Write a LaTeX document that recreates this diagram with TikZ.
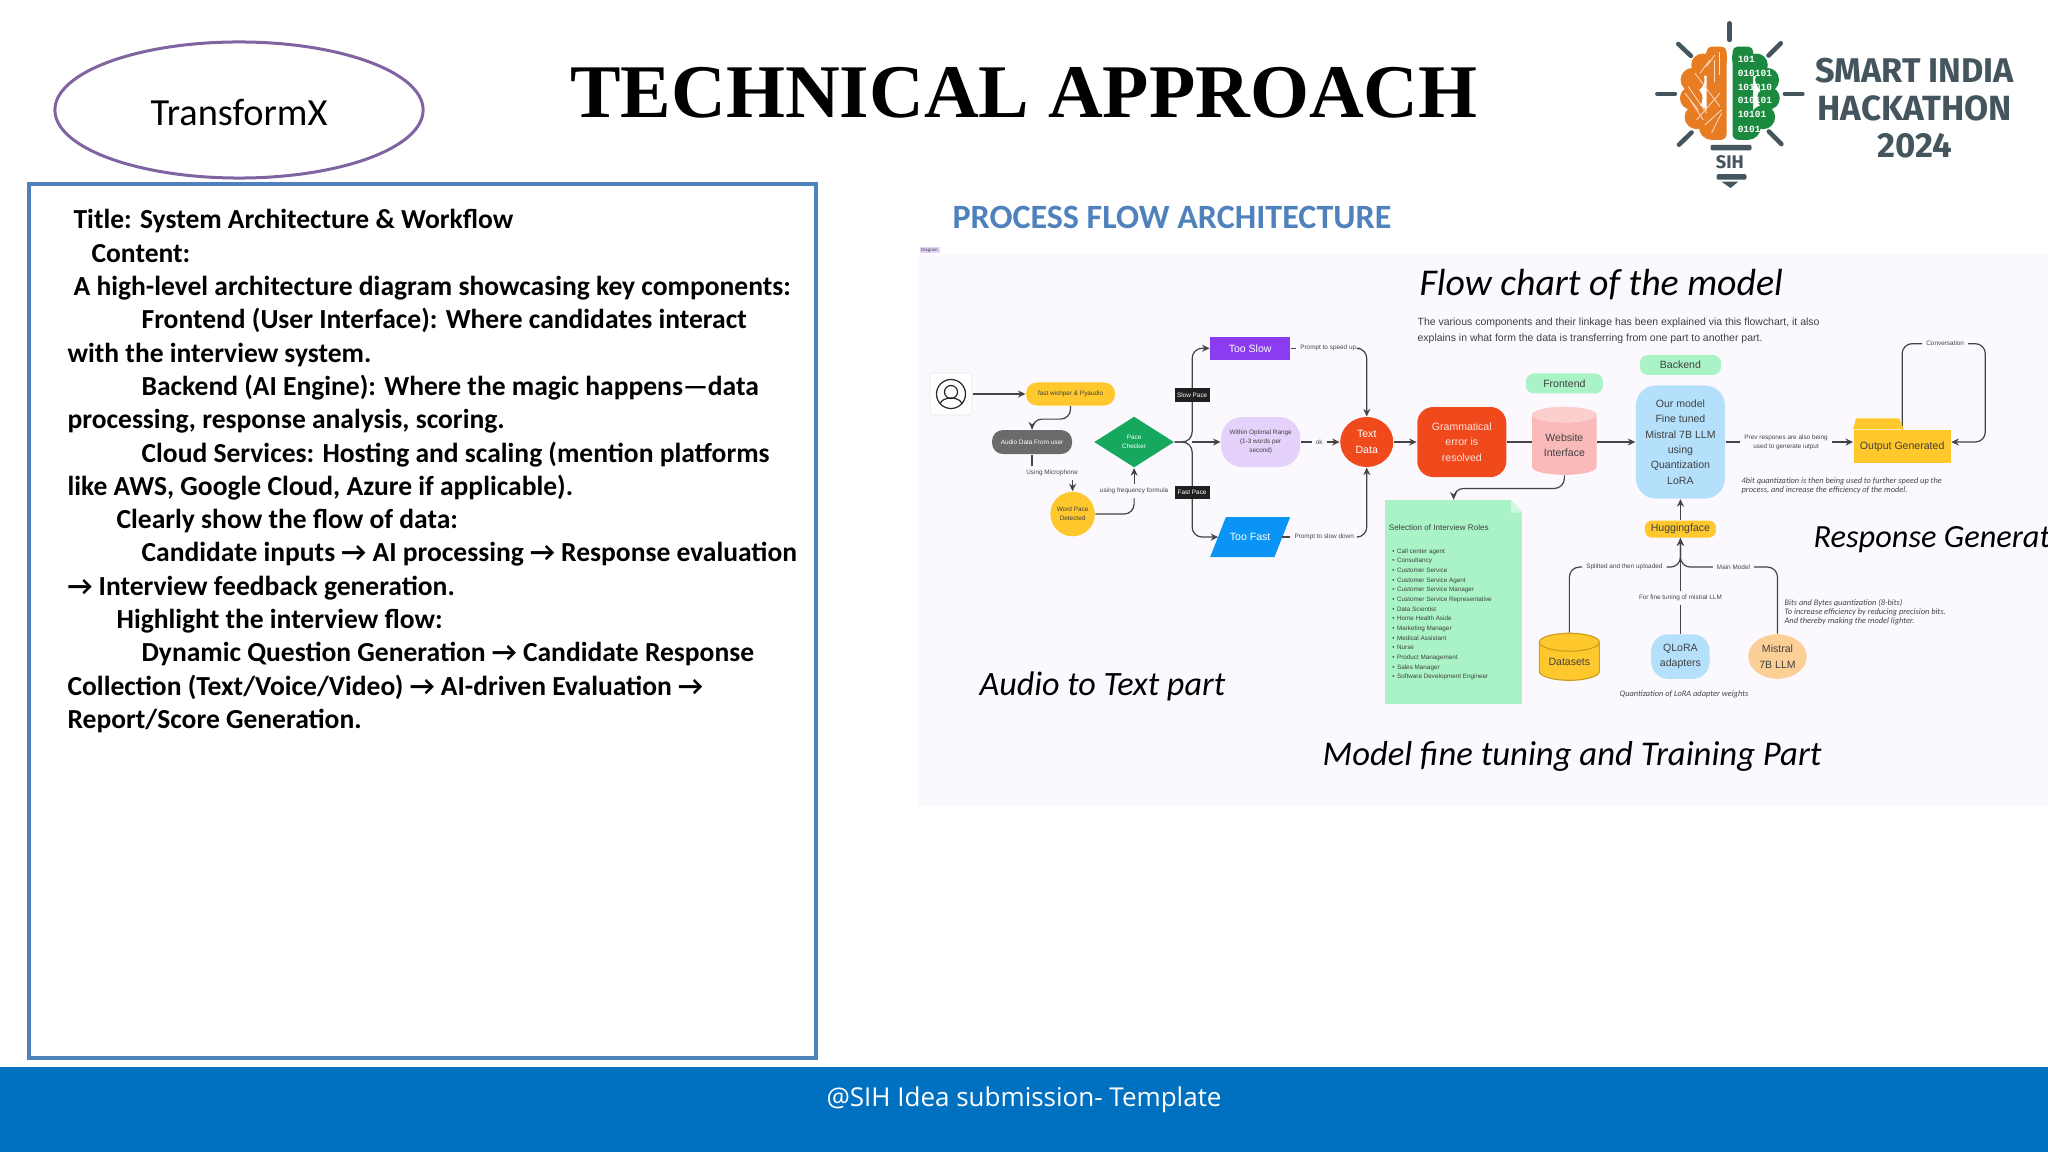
\documentclass[tikz,border=0pt]{standalone}
\usepackage{fontspec}
\setmainfont{Carlito}
\newfontfamily\diagfont{Liberation Sans}
\newfontfamily\titlefont{Liberation Serif}
\newfontfamily\logofont{Fira Sans}
\newfontfamily\footfont{Open Sans}
\newfontfamily\bitsfont{Liberation Mono}
\usetikzlibrary{positioning, arrows.meta, shapes.geometric}
\definecolor{sheetbg}{HTML}{FBF9FE}
\definecolor{slideblue}{HTML}{4F81BD}
\definecolor{footblue}{HTML}{0070C0}
\definecolor{ringviolet}{HTML}{8064A2}
\definecolor{sunny}{HTML}{FFC82C}
\definecolor{greyish}{HTML}{6B6B6B}
\definecolor{leaf}{HTML}{16A85C}
\definecolor{violet}{HTML}{8B3CF0}
\definecolor{lilac}{HTML}{E4D2FA}
\definecolor{azure}{HTML}{0A94F5}
\definecolor{tomato}{HTML}{F0491C}
\definecolor{blush}{HTML}{FBBABA}
\definecolor{mint}{HTML}{A9F3C6}
\definecolor{sky}{HTML}{B5E0FC}
\definecolor{peach}{HTML}{FBCF96}
\definecolor{linegrey}{HTML}{444444}
\definecolor{logogrey}{HTML}{44555E}
\definecolor{logoorange}{HTML}{E87C22}
\definecolor{logogreen}{HTML}{1B8A3E}
\begin{document}
\begin{tikzpicture}[x=0.01cm, y=-0.01cm, on grid, >={Stealth[length=0.75mm, width=0.7mm]}, line width=0.12mm,
	big/.style={inner sep=0, align=center, text=black!75, font=\diagfont\fontsize{3}{4.35}\selectfont},
	small/.style={inner sep=0, align=center, text=black!75, font=\diagfont\fontsize{1.82}{2.6}\selectfont},
	linktext/.style={small, inner sep=0.35mm, text=linegrey},
	tagbox/.style={small, fill=black!88, text=white, minimum width=3.5mm, minimum height=1.35mm},
	joint/.style={inner sep=0, outer sep=0, minimum size=0pt},
	hand/.style={inner sep=0, anchor=west, font=\itshape\fontsize{9.7}{11}\selectfont},
	tinyhand/.style={inner sep=0, anchor=west, align=left, text=linegrey, font=\itshape\fontsize{2.38}{2.65}\selectfont},
	link/.style={draw=linegrey, rounded corners=1mm}]
	\useasboundingbox (0,0) rectangle (2048,1152);
	\fill[white] (0,0) rectangle (2048,1152);
	\fill[sheetbg] (918,254) rectangle (2048,806);
	\fill[footblue] (0,1067) rectangle (2048,1152);

	\node[draw=ringviolet, line width=0.3mm, ellipse, minimum width=36.8mm, minimum height=13.6mm, inner sep=0] (brand) at (239,110) {};
	\node[font=\fontsize{10.9}{12}\selectfont, inner sep=0] (brandname) at (239,113) {TransformX};
	\node[font=\titlefont\bfseries\fontsize{21.55}{26}\selectfont, inner sep=0] (heading) at (1024,93) {TECHNICAL APPROACH};
	\node[draw=slideblue, line width=0.4mm, minimum width=78.7mm, minimum height=87.4mm, inner sep=0] (panel) at (422.5,621) {};
	\node[anchor=north west, inner sep=0, align=left, font=\bfseries\fontsize{7.83}{9.47}\selectfont] (paneltext) at (67,209) {%
		\hspace*{0.6mm}Title: System Architecture \& Workflow\\
		\hspace*{2.4mm}Content:\\
		\hspace*{0.6mm}A high-level architecture diagram showcasing key components:\\
		\hspace*{7.4mm}Frontend (User Interface): Where candidates interact\\
		with the interview system.\\
		\hspace*{7.4mm}Backend (AI Engine): Where the magic happens—data\\
		processing, response analysis, scoring.\\
		\hspace*{7.4mm}Cloud Services: Hosting and scaling (mention platforms\\
		like AWS, Google Cloud, Azure if applicable).\\
		\hspace*{4.9mm}Clearly show the flow of data:\\
		\hspace*{7.4mm}Candidate inputs → AI processing → Response evaluation\\
		→ Interview feedback generation.\\
		\hspace*{4.9mm}Highlight the interview flow:\\
		\hspace*{7.4mm}Dynamic Question Generation → Candidate Response\\
		Collection (Text/Voice/Video) → AI-driven Evaluation →\\
		Report/Score Generation.};
	\node[anchor=west, inner sep=0, text=slideblue, font=\bfseries\fontsize{9.68}{11}\selectfont] (flowhead) at (952,217) {PROCESS FLOW ARCHITECTURE};
	\node[text=white, inner sep=0, font=\footfont\fontsize{7.39}{9}\selectfont] (footer) at (1024,1100) {@SIH Idea submission- Template};

	\node[small, fill=lilac, minimum width=2mm, minimum height=0.6mm, font=\diagfont\fontsize{1.25}{1.5}\selectfont] (tag) at (929.5,250) {Diagram};
	\node[hand, font=\itshape\fontsize{10.75}{12}\selectfont] (charthead) at (1419,285) {Flow chart of the model};
	\node[small, anchor=north west, align=left, font=\diagfont\fontsize{2.98}{4.55}\selectfont] (about) at (1417,317) {The various components and their linkage has been explained via this flowchart, it also\\explains in what form the data is transferring from one part to another part.};

	\node[fill=white, draw=black!6, rounded corners=0.3mm, minimum size=4.2mm, inner sep=0] (user) at (951,394) {};
	\draw[black!85] (user.center) circle [radius=1.45mm];
	\draw[black!85] (951,392) circle [radius=0.65mm];
	\draw[black!85] (940,404) .. controls (942,396) and (960,396) .. (962,404);
	\node[small, fill=sunny, rounded corners=1.1mm, minimum width=8.9mm, minimum height=2.3mm] (wishper) [right=11.95mm of user] {fast wishper \& Pyaudio};
	\node[small, fill=greyish, text=white, rounded corners=1.1mm, minimum width=8mm, minimum height=2.4mm] (audio) [below left=4.8mm and 3.85mm of wishper] {Audio Data From user};
	\node[small, fill=sunny, circle, minimum size=4.45mm] (pace) [below right=7.2mm and 4.05mm of audio] {Word Pace\\Detected};
	\node[linktext] (mic) [below right=3.1mm and 2mm of audio] {Using Microphone};
	\node[small, diamond, fill=leaf, text=white, aspect=1.57, minimum width=8mm, minimum height=5.1mm] (checker) [right=10.2mm of audio] {Pace\\Checker};
	\node[linktext] (formula) [below=4.9mm of checker] {using frequency formula};
	\node[joint] (fork) [right=5.8mm of checker] {};
	\node[big, fill=violet, text=white, minimum width=8mm, minimum height=2.3mm] (slow) [above right=9.37mm and 5.8mm of fork] {Too Slow};
	\node[joint, minimum width=8mm, minimum height=4mm] (fast) [below right=9.5mm and 5.8mm of fork] {};
	\fill[azure] (fast.south west) -- ++(15.7,-40) -- ++(64.3,0) -- ++(-15.7,40) -- cycle;
	\node[big, text=white] (fastname) at (fast) {Too Fast};
	\node[small, fill=lilac, rounded corners=2.1mm, minimum width=7.9mm, minimum height=5mm] (optimal) [right=6.85mm of fork] {Within Optimal Range\\(1-3 words per\\second)};
	\node[linktext] (speedup) [right=7.8mm of slow] {Prompt to speed up};
	\node[linktext] (slowdown) [right=7.4mm of fast] {Prompt to slow down};
	\node[linktext] (okay) [right=5.85mm of optimal] {ok};
	\node[big, fill=tomato, text=white, ellipse, minimum width=5.3mm, minimum height=5mm] (textdata) [right=10.6mm of optimal] {Text\\Data};
	\node[big, fill=tomato, text=white, rounded corners=1.6mm, minimum width=8.9mm, minimum height=7mm, text=white!85!tomato] (grammar) [right=9.5mm of textdata] {Grammatical\\error is\\resolved};
	\node[big, cylinder, shape border rotate=90, shape aspect=0.38, cylinder uses custom fill, cylinder body fill=blush, cylinder end fill=blush!70, minimum width=6.45mm, minimum height=6.8mm] (website) [below right=0.3mm and 10.25mm of grammar] {Website\\Interface};
	\node[big, fill=mint, rounded corners=0.8mm, minimum width=7.7mm, minimum height=2mm] (frontend) [above=6.15mm of website] {Frontend};
	\node[big, fill=sky, rounded corners=2mm, minimum width=8.9mm, minimum height=11.3mm] (model) [above right=0.3mm and 11.6mm of website] {Our model\\Fine tuned\\Mistral 7B LLM\\using\\Quantization\\LoRA};
	\node[big, fill=mint, rounded corners=0.8mm, minimum width=8.1mm, minimum height=2mm] (backend) [above=7.7mm of model] {Backend};
	\node[big, fill=sunny, rounded corners=0.7mm, minimum width=7.1mm, minimum height=1.7mm] (hugging) [below=8.7mm of model] {Huggingface};
	\node[joint] (hub) [below=3.8mm of hugging] {};
	\node[linktext] (finetune) [below=3.1mm of hub] {For fine tuning of mistral LLM};
	\node[linktext] (split) [left=5.6mm of hub] {Splitted and then uploaded};
	\node[linktext] (mainmodel) [right=5.3mm of hub] {Main Model};
	\node[big, fill=sky, rounded corners=1.7mm, minimum width=5.85mm, minimum height=4.45mm] (qlora) [below=8.94mm of hub] {QLoRA\\adapters};
	\node[big, cylinder, shape border rotate=90, shape aspect=0.43, draw=sunny!80!black, cylinder uses custom fill, cylinder body fill=sunny, cylinder end fill=sunny, minimum width=6mm, minimum height=4.7mm] (datasets) [below left=0.5mm and 11.1mm of qlora] {Datasets};
	\node[big, fill=peach, ellipse, minimum width=5.85mm, minimum height=4.45mm] (mistral) [right=9.7mm of qlora] {Mistral\\7B LLM};
	\node[linktext] (prev) [right=10.56mm of model] {Prev respones are also being\\used to generate iutput};
	\node[big, fill=sunny, minimum width=9.7mm, minimum height=3.3mm] (output) [below right=0.45mm and 11.6mm of prev] {Output Generated};
	\node[linktext] (chat) [above right=10.28mm and 4.3mm of output] {Conversation};
	\coordinate (outputin) at (output.east |- prev.east);
	\coordinate (turn) at ([xshift=3.4mm]outputin);
	\node[fill=mint, minimum width=13.74mm, minimum height=20.37mm, inner sep=0] (roles) [below left=16mm and 0.82mm of grammar] {};
	\fill[sheetbg] (roles.north east) -- ++(-12,0) -- ++(12,13) -- cycle;
	\fill[mint!55] (roles.north east) ++(-12,0) -- ++(12,13) -- ++(-12,0) -- cycle;
	\node[small, anchor=north west, font=\diagfont\fontsize{2.3}{2.8}\selectfont] (rolehead) at ([shift={(0.4mm,-2.45mm)}]roles.north west) {Selection of Interview Roles};
	\node[small, anchor=north west, align=left, font=\diagfont\fontsize{1.8}{2.745}\selectfont] (rolelist) at ([shift={(0.75mm,-4.85mm)}]roles.north west) {%
		\textbullet\hspace{0.25mm}Call center agent\\
		\textbullet\hspace{0.25mm}Consultancy\\
		\textbullet\hspace{0.25mm}Customer Service\\
		\textbullet\hspace{0.25mm}Customer Service Agent\\
		\textbullet\hspace{0.25mm}Customer Service Manager\\
		\textbullet\hspace{0.25mm}Customer Service Representative\\
		\textbullet\hspace{0.25mm}Data Scientist\\
		\textbullet\hspace{0.25mm}Home Health Aside\\
		\textbullet\hspace{0.25mm}Marketing Manager\\
		\textbullet\hspace{0.25mm}Medical Assistant\\
		\textbullet\hspace{0.25mm}Nurse\\
		\textbullet\hspace{0.25mm}Product Management\\
		\textbullet\hspace{0.25mm}Sales Manager\\
		\textbullet\hspace{0.25mm}Software Development Engineer};

	\draw[->, draw=linegrey] (user.east) -- (wishper.west);
	\draw[->, link] (wishper.south) -- ++(0,13) -| (audio.north);
	\draw[draw=linegrey] (audio.south) -- (mic.north -| audio.south);
	\draw[->, draw=linegrey] (mic.south -| pace.north) -- (pace.north);
	\draw[link] (pace.east) -| (formula.south);
	\draw[->, draw=linegrey] (formula.north) -- (checker.south);
	\draw[->, link] (checker.east) -- (fork.center) |- (slow.west);
	\draw[->, link] (checker.east) -- (fork.center) |- ([xshift=0.8mm]fast.west);
	\draw[->, draw=linegrey] (fork.center) -- (optimal.west);
	\node[tagbox] (slowpace) [above=4.7mm of fork] {Slow Pace};
	\node[tagbox] (fastpace) [below=5.05mm of fork] {Fast Pace};
	\draw[draw=linegrey] (slow.east) -- (speedup.west);
	\draw[->, link] (speedup.east) -| (textdata.north);
	\draw[draw=linegrey] (optimal.east) -- (okay.west);
	\draw[->, draw=linegrey] (okay.east) -- (textdata.west);
	\draw[draw=linegrey] ([xshift=-0.8mm]fast.east) -- (slowdown.west);
	\draw[->, link] (slowdown.east) -| (textdata.south);
	\draw[->, draw=linegrey] (textdata.east) -- (grammar.west);
	\draw[draw=linegrey] (grammar.east) -- (grammar.east -| website.west);
	\draw[->, draw=linegrey] (model.west -| website.east) -- (model.west);
	\draw[->, link] (website.south) -- ++(0,13) -| (roles.north);
	\draw[draw=linegrey] (model.east) -- (prev.west);
	\draw[->, draw=linegrey] (prev.east) -- (prev.east -| output.west);
	\draw[link] (output.north) |- (chat.west);
	\draw[->, link] (chat.east) -| (turn) -- (outputin);
	\fill[sunny] (output.north west) -- ++(3,-11) -- ++(43,0) -- ++(5,11) -- cycle;
	\draw[->, draw=linegrey] (hugging.north) -- (model.south);
	\draw[->, link] (split.east) -- (hub.center) -- (hugging.south);
	\draw[->, link] (mainmodel.west) -- (hub.center) -- (hugging.south);
	\draw[draw=linegrey] (hugging.south) -- (finetune.north);
	\draw[draw=linegrey] (finetune.south) -- (qlora.north);
	\draw[link] (datasets.north) |- (split.west);
	\draw[link] (mistral.north) |- (mainmodel.east);

	\node[tinyhand] (quantnote) at (1741,485.5) {4bit quantization is then being used to further speed up the\\process, and increase the efficiency of the model.};
	\node[tinyhand] (bitsnote) at (1784,612) {Bits and Bytes quantization (8-bits)\\To increase efficiency by reducing precision bits.\\And thereby making the model lighter.};
	\node[tinyhand, anchor=center] (loranote) at (1684,694) {Quantization of LoRA adapter weights};
	\node[hand] (audiopart) at (979,686.7) {Audio to Text part};
	\node[hand, font=\itshape\fontsize{9.86}{11}\selectfont] (tuningpart) at (1322,756) {Model fine tuning and Training Part};
	\node[hand, font=\itshape\fontsize{9.2}{11}\selectfont] (replypart) at (1813,540) {Response Generat};

	\begin{scope}[shift={(1640,10)}, x=0.00333cm, y=-0.00333cm]
		\foreach \fromx/\fromy/\tox/\toy in {269/40/269/90, 52/252/105/252, 435/252/488/252, 115/102/153/138, 423/100/386/137, 155/368/117/405, 387/365/425/403}
			\draw[logogrey, line width=0.45mm, line cap=round] (\fromx,\fromy) -- (\tox,\toy);
		\fill[logoorange, rounded corners=0.5mm] (200,110) rectangle (260,390);
		\foreach \cx/\cy/\r in {228/145/34, 188/165/34, 158/210/36, 154/265/34, 170/322/36, 215/352/38}
			\fill[logoorange] (\cx,\cy) circle [radius=\r];
		\fill[logogreen, rounded corners=0.5mm] (278,110) rectangle (340,390);
		\foreach \cx/\cy/\r in {310/145/34, 350/165/34, 382/210/36, 386/265/34, 370/322/36, 325/352/38}
			\fill[logogreen] (\cx,\cy) circle [radius=\r];
		\foreach \fromx/\fromy/\tox/\toy in {240/125/240/195, 225/135/200/170, 165/190/240/290, 145/230/200/310, 170/330/240/250, 195/345/245/300, 225/150/225/215, 150/270/190/330, 210/150/180/190, 135/250/175/300, 245/310/215/370}
			\draw[white!75!logoorange, line width=0.08mm] (\fromx,\fromy) -- (\tox,\toy);
		\foreach \row/\bits in {148/101,190/010101,232/101010,272/010101,315/10101,358/0101}
			\node[anchor=west, inner sep=0, text=white, font=\bitsfont\bfseries\fontsize{2.7}{3}\selectfont] at (292,\row) {\bits};
		\fill[logogrey, rounded corners=0.2mm] (212,405) rectangle (335,422);
		\node[text=logogrey, inner sep=0, font=\logofont\bfseries\fontsize{5.2}{6}\selectfont] (sih) at (270,458) {SIH};
		\fill[logogrey, rounded corners=0.2mm] (230,493) rectangle (320,510);
		\fill[logogrey] (245,516) -- (295,516) -- (272,535) -- cycle;
		\node[text=logogrey, inner sep=0, font=\logofont\bfseries\fontsize{9.75}{11}\selectfont] (smart) at (825,182) {SMART INDIA};
		\node[text=logogrey, inner sep=0, font=\logofont\bfseries\fontsize{9.95}{11}\selectfont] (hack) at (825,295) {HACKATHON};
		\node[text=logogrey, inner sep=0, font=\logofont\bfseries\fontsize{9.9}{11}\selectfont] (year) at (825,408) {2024};
	\end{scope}
\end{tikzpicture}
\end{document}
